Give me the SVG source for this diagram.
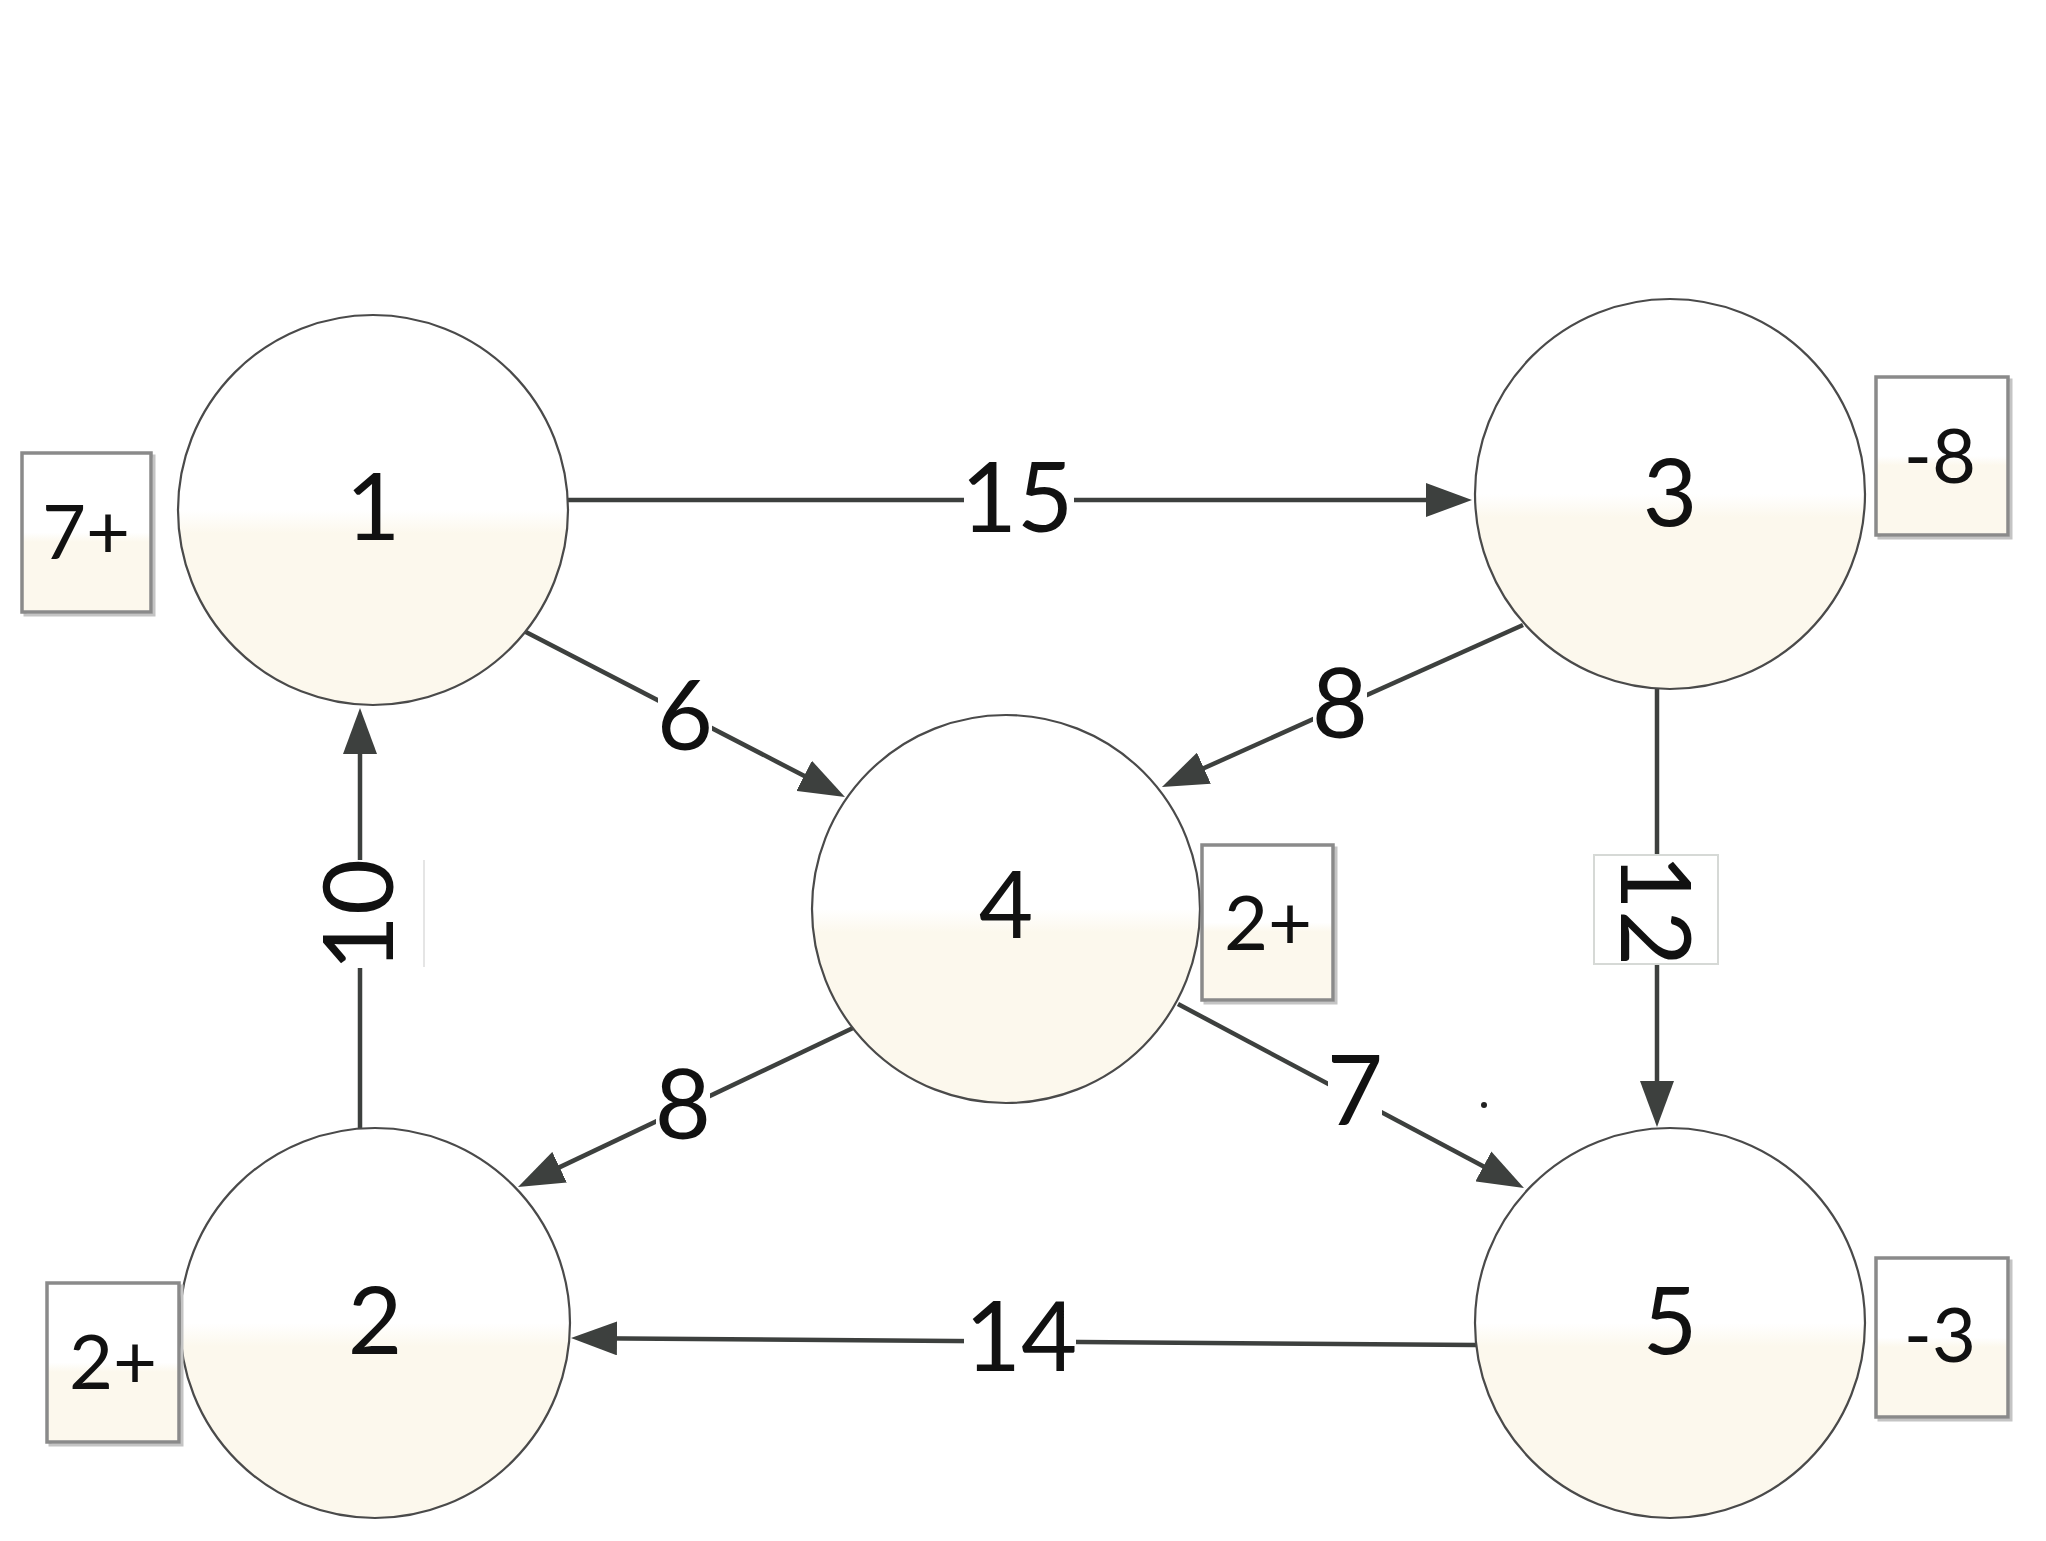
<svg xmlns="http://www.w3.org/2000/svg" width="2046" height="1541" viewBox="0 0 2046 1541">
<style>
.node{fill:url(#fillGrad);stroke:#4a4a4a;stroke-width:2.2}
.box{fill:url(#fillGrad);stroke:#8a8a8a;stroke-width:3.5}
.shadow{fill:none;stroke:#c4c4c4;stroke-width:3}
.ntext{font-family:Lato,"Open Sans","DejaVu Sans",sans-serif;font-size:94px;fill:#111;text-anchor:middle}
.btext{font-family:Lato,"Open Sans","DejaVu Sans",sans-serif;font-size:76px;fill:#111;text-anchor:middle}
.etext{font-family:Lato,"Open Sans","DejaVu Sans",sans-serif;font-size:97px;fill:#111;text-anchor:middle}
.edge{fill:none;stroke:#3d403e;stroke-width:4.5}
.lbg{fill:#fff;stroke:none}
</style>
<defs>
<linearGradient id="fillGrad" x1="0" y1="0" x2="0" y2="1">
<stop offset="0" stop-color="#ffffff"/>
<stop offset="0.5" stop-color="#ffffff"/>
<stop offset="0.56" stop-color="#fcf8ed"/>
<stop offset="1" stop-color="#fcf8ed"/>
</linearGradient>
<marker id="arrow" viewBox="0 0 46 34" refX="26" refY="17" markerWidth="46" markerHeight="34" markerUnits="userSpaceOnUse" orient="auto">
<path d="M0,0 L46,17 L0,34 z" fill="#3d403e"/>
</marker>
</defs>
<rect x="0" y="0" width="2046" height="1541" fill="#ffffff"/>

<g id="connectors">
<line class="edge" x1="568" y1="500" x2="1452" y2="500" marker-end="url(#arrow)"/>
<line class="edge" x1="522" y1="630" x2="827.2" y2="787.8" marker-end="url(#arrow)"/>
<line class="edge" x1="1523" y1="625" x2="1180.2" y2="778.8" marker-end="url(#arrow)"/>
<line class="edge" x1="1657" y1="689" x2="1657" y2="1107" marker-end="url(#arrow)"/>
<line class="edge" x1="1178" y1="1004" x2="1506.3" y2="1178.6" marker-end="url(#arrow)"/>
<line class="edge" x1="853" y1="1028" x2="536.1" y2="1178.4" marker-end="url(#arrow)"/>
<line class="edge" x1="360" y1="1130" x2="360" y2="728" marker-end="url(#arrow)"/>
<line class="edge" x1="1476" y1="1345" x2="591" y2="1338.15" marker-end="url(#arrow)"/>

<g id="label-15">
<rect class="lbg" x="964" y="458" width="110" height="80"/>
<text class="etext" x="1017" y="532">15</text>
</g>
<g id="label-6">
<rect class="lbg" x="658" y="678" width="54" height="74"/>
<text class="etext" x="685" y="750">6</text>
</g>
<g id="label-8a">
<rect class="lbg" x="1313" y="666" width="54" height="74"/>
<text class="etext" x="1340" y="738">8</text>
</g>
<g id="label-12">
<rect x="1594" y="855" width="124" height="109" fill="#fff" stroke="#d6d9d6" stroke-width="2"/>
<text class="etext" transform="translate(1656,910) rotate(90)" x="0" y="35">12</text>
</g>
<g id="label-10">
<rect class="lbg" x="298" y="860" width="124" height="108"/>
<line x1="424" y1="860" x2="424" y2="967" stroke="#dcdcdc" stroke-width="1.5"/>
<text class="etext" transform="translate(358,915) rotate(-90)" x="0" y="35">10</text>
</g>
<g id="label-7">
<rect class="lbg" x="1328" y="1054" width="54" height="72"/>
<text class="etext" x="1355" y="1125">7</text>
</g>
<g id="label-8b">
<rect class="lbg" x="656" y="1067" width="54" height="74"/>
<text class="etext" x="683" y="1139">8</text>
</g>
<g id="label-14">
<rect class="lbg" x="964" y="1297" width="112" height="80"/>
<text class="etext" x="1021" y="1371">14</text>
</g>
<circle cx="1484" cy="1105" r="3" fill="#222"/>
</g>

<g id="node-1">
<circle class="node" cx="373" cy="510" r="195"/>
<text class="ntext" x="373" y="540">1</text>
</g>
<g id="node-2">
<circle class="node" cx="375" cy="1323" r="195"/>
<text class="ntext" x="375" y="1354">2</text>
</g>
<g id="node-3">
<circle class="node" cx="1670" cy="494" r="195"/>
<text class="ntext" x="1670" y="526">3</text>
</g>
<g id="node-4">
<circle class="node" cx="1006" cy="909" r="194"/>
<text class="ntext" x="1006" y="938">4</text>
</g>
<g id="node-5">
<circle class="node" cx="1670" cy="1323" r="195"/>
<text class="ntext" x="1670" y="1354">5</text>
</g>

<g id="supply-1">
<rect class="shadow" x="25" y="456" width="129" height="159"/>
<rect class="box" x="22" y="453" width="129" height="159"/>
<text class="btext" x="86" y="559">7+</text>
</g>
<g id="supply-2">
<rect class="shadow" x="50" y="1286" width="132" height="159"/>
<rect class="box" x="47" y="1283" width="132" height="159"/>
<text class="btext" x="113" y="1389">2+</text>
</g>
<g id="supply-3">
<rect class="shadow" x="1879" y="380" width="132" height="158"/>
<rect class="box" x="1876" y="377" width="132" height="158"/>
<text class="btext" x="1940" y="483">-8</text>
</g>
<g id="supply-4">
<rect class="shadow" x="1205" y="848" width="131" height="155"/>
<rect class="box" x="1202" y="845" width="131" height="155"/>
<text class="btext" x="1268" y="950">2+</text>
</g>
<g id="supply-5">
<rect class="shadow" x="1879" y="1261" width="132" height="159"/>
<rect class="box" x="1876" y="1258" width="132" height="159"/>
<text class="btext" x="1940" y="1362">-3</text>
</g>
</svg>
